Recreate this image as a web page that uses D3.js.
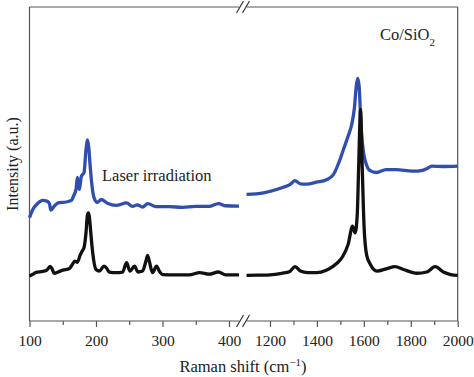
<!DOCTYPE html>
<html>
<head>
<meta charset="utf-8">
<script src="https://cdn.jsdelivr.net/npm/d3@7"></script>
<style>
  html, body { margin: 0; padding: 0; background: #fff; }
  svg { display: block; font-family: "Liberation Serif", "Times New Roman", serif; }
</style>
</head>
<body>
<div id="chart"></div>
<script>
// Raman spectra, values (arbitrary units)
const blackLeft = [
  [100, 14.3], [105, 14.9], [110, 15.5], [120, 15.8], [126, 16.2], [131, 17.4], [134, 16.6],
  [137, 15.2], [143, 15.6], [150, 16.2], [160, 16.7], [165, 18.2], [168, 19.1], [172, 18.7],
  [176, 20.9], [179, 22.2], [182, 23.4], [185, 28.2], [187, 33.6], [188.5, 34.4], [190, 33.2],
  [192, 28.5], [195, 21.8], [200, 16.4], [205, 15.9], [212, 17.5], [216, 16.8], [220, 15.6],
  [230, 15.4], [240, 15.6], [246, 18.6], [251, 15.9], [258, 17.5], [263, 15.6], [270, 15.9],
  [275, 19.0], [277.5, 20.9], [280, 19.2], [285, 15.4], [291, 17.5], [296, 15.6], [300, 14.8],
  [320, 14.7], [340, 14.7], [356, 15.4], [370, 14.9], [384, 15.6], [395, 14.7], [415, 14.7]
];
const blueLeft = [
  [100, 32.9], [105, 35.5], [112, 37.4], [120, 38.4], [127, 38.1], [130, 37.4], [132, 35.3],
  [137, 36.5], [143, 37.6], [155, 37.9], [163, 38.4], [166, 39.7], [170, 42.0], [172, 45.7],
  [175, 41.9], [178, 46.1], [182, 47.3], [185, 54.6], [187, 57.7], [189, 55.5], [191, 50.0],
  [193, 45.0], [197, 39.3], [202, 37.8], [208, 38.7], [218, 37.4], [230, 36.8], [246, 37.6],
  [255, 36.5], [262, 37.0], [270, 36.3], [278, 37.4], [290, 36.4], [310, 36.4], [330, 36.2],
  [350, 36.5], [370, 36.5], [384, 37.4], [395, 36.7], [415, 36.6]
];
const blackRight = [
  [1100, 14.5], [1150, 14.6], [1200, 14.7], [1250, 15.2], [1285, 15.8], [1307, 17.3],
  [1330, 15.9], [1360, 15.4], [1400, 15.4], [1440, 16.2], [1470, 17.5], [1500, 19.5],
  [1511, 20.7], [1533, 24.4], [1552, 30.2], [1563, 28.1], [1572, 34.0], [1578, 49.3],
  [1586, 67.3], [1593, 49.3], [1601, 30.0], [1612, 21.0], [1628, 18.0], [1656, 15.9],
  [1698, 16.7], [1733, 17.3], [1769, 16.4], [1826, 15.2], [1868, 15.6], [1904, 17.3],
  [1939, 15.6], [1970, 14.8], [2000, 14.5]
];
const blueRight = [
  [1100, 40.3], [1172, 40.8], [1200, 41.3], [1257, 42.6], [1285, 43.4], [1306, 44.7],
  [1330, 43.7], [1356, 43.6], [1398, 44.2], [1441, 45.0], [1470, 46.6], [1490, 49.8],
  [1513, 54.6], [1535, 59.3], [1548, 62.5], [1560, 68.0], [1568, 75.0], [1574, 77.3],
  [1580, 74.7], [1588, 62.0], [1598, 54.0], [1610, 50.0], [1625, 48.0], [1654, 47.3],
  [1695, 48.2], [1737, 48.2], [1808, 47.7], [1850, 48.0], [1870, 48.6], [1890, 49.3],
  [1940, 49.2], [2000, 49.3]
];

const ticksLeft = [100, 200, 300, 400];
const minorLeft = [150, 250, 350];
const ticksRight = [1200, 1400, 1600, 1800, 2000];
const minorRight = [1300, 1500, 1700, 1900];

const width = 474, height = 377;
const plotLeft = 29.5, plotRight = 457.7, plotTop = 7, plotBottom = 321;
const breakX = 243;

const xL = d3.scaleLinear().domain([100, 420]).range([plotLeft, 242.3]);
const xR = d3.scaleLinear().domain([1085, 2000]).range([breakX, plotRight]);
const y = d3.scaleLinear().domain([0, 100]).range([plotBottom, plotTop]);

const svg = d3.select('#chart').append('svg')
  .attr('width', width)
  .attr('height', height);

const frame = '#555';
const ink = '#222';

// frame: left and right sides, top and bottom split at the break
svg.append('line').attr('x1', plotLeft).attr('x2', plotLeft).attr('y1', plotTop).attr('y2', plotBottom)
  .attr('stroke', frame).attr('stroke-width', 1.2);
svg.append('line').attr('x1', plotRight).attr('x2', plotRight).attr('y1', plotTop).attr('y2', plotBottom)
  .attr('stroke', frame).attr('stroke-width', 1.2);
[plotTop, plotBottom].forEach(yy => {
  svg.append('line').attr('x1', plotLeft).attr('x2', breakX - 4).attr('y1', yy).attr('y2', yy)
    .attr('stroke', frame).attr('stroke-width', 1.2);
  svg.append('line').attr('x1', breakX + 4).attr('x2', plotRight).attr('y1', yy).attr('y2', yy)
    .attr('stroke', frame).attr('stroke-width', 1.2);
  [-3, 3].forEach(dx => {
    svg.append('line')
      .attr('x1', breakX + dx - 3.5).attr('y1', yy + 6)
      .attr('x2', breakX + dx + 3.5).attr('y2', yy - 6)
      .attr('stroke', '#333').attr('stroke-width', 1.2);
  });
});

// x axes (ticks outward, no domain line)
function drawAxis(scale, major, minor) {
  const gMaj = svg.append('g').attr('transform', `translate(0,${plotBottom})`)
    .call(d3.axisBottom(scale).tickValues(major).tickSize(6).tickPadding(8).tickFormat(d3.format('d')));
  gMaj.select('.domain').remove();
  gMaj.selectAll('line').attr('stroke', frame).attr('stroke-width', 1.2);
  gMaj.selectAll('text').attr('font-size', 15.5).attr('fill', ink)
    .attr('font-family', '"Liberation Serif", "Times New Roman", serif');
  const gMin = svg.append('g').attr('transform', `translate(0,${plotBottom})`)
    .call(d3.axisBottom(scale).tickValues(minor).tickSize(4).tickFormat(''));
  gMin.select('.domain').remove();
  gMin.selectAll('line').attr('stroke', frame).attr('stroke-width', 1.2);
}
drawAxis(xL, ticksLeft, minorLeft);
drawAxis(xR, ticksRight, minorRight);

// spectra
function drawLine(data, xs, color) {
  svg.append('path')
    .datum(data)
    .attr('fill', 'none')
    .attr('stroke', color)
    .attr('stroke-width', 3.3)
    .attr('stroke-linejoin', 'round')
    .attr('d', d3.line().x(d => xs(d[0])).y(d => y(d[1])).curve(d3.curveMonotoneX));
}
drawLine(blueLeft, xL, '#2f4eae');
drawLine(blueRight, xR, '#2f4eae');
drawLine(blackLeft, xL, '#111');
drawLine(blackRight, xR, '#111');

// labels
svg.append('text')
  .attr('x', 243).attr('y', 372)
  .attr('text-anchor', 'middle')
  .attr('font-size', 16.5).attr('fill', ink)
  .html('Raman shift (cm<tspan baseline-shift="super" font-size="11">\u22121</tspan>)');

svg.append('text')
  .attr('transform', 'translate(18,164) rotate(-90)')
  .attr('text-anchor', 'middle')
  .attr('font-size', 16).attr('fill', ink)
  .text('Intensity (a.u.)');

svg.append('text')
  .attr('x', 102).attr('y', 181)
  .attr('font-size', 16.5).attr('fill', ink)
  .text('Laser irradiation');

svg.append('text')
  .attr('x', 380).attr('y', 40)
  .attr('font-size', 16.5).attr('fill', ink)
  .html('Co/SiO<tspan baseline-shift="sub" font-size="11">2</tspan>');
</script>
</body>
</html>
